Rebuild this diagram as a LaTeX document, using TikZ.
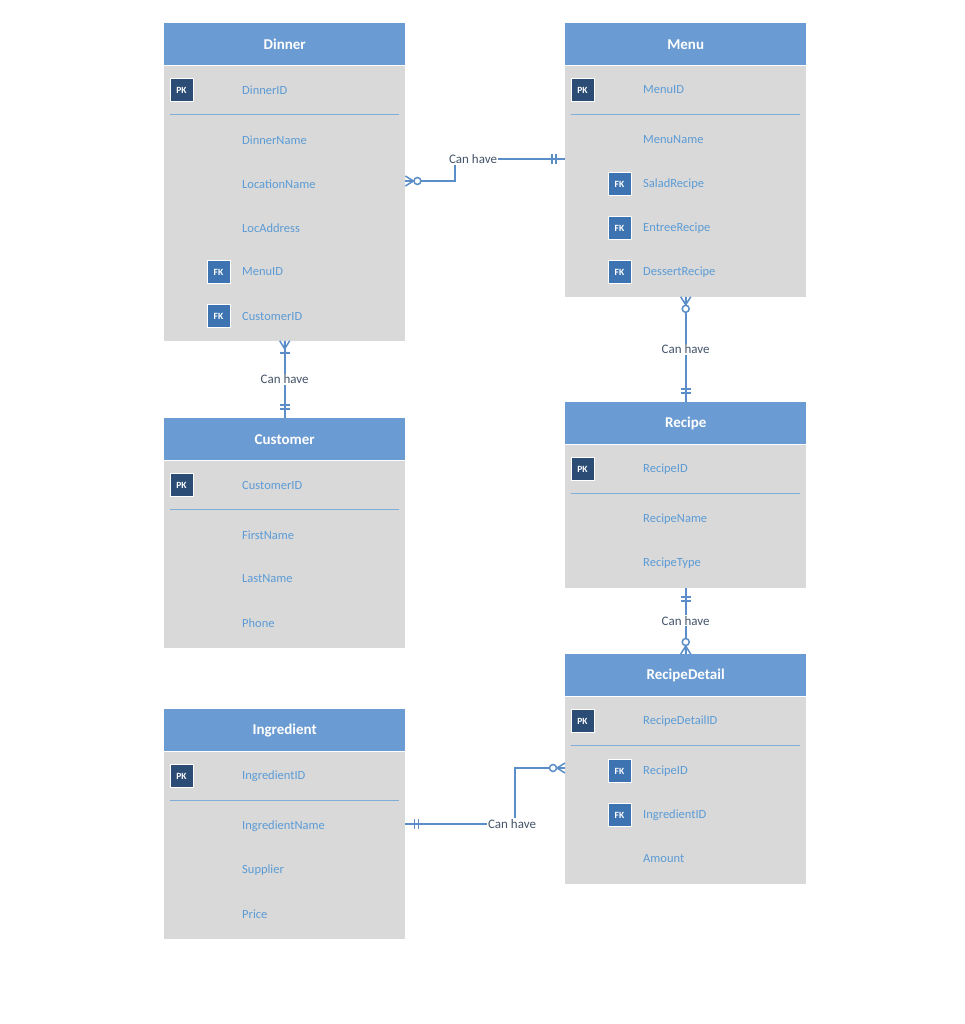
\documentclass[tikz,border=0pt]{standalone}
\usepackage{fontspec}
\setmainfont{Carlito}
\usetikzlibrary{positioning}

\definecolor{headblue}{HTML}{6A9BD2}
\definecolor{bodygrey}{HTML}{D9D9D9}
\definecolor{pkblue}{HTML}{2B4C74}
\definecolor{fkblue}{HTML}{3D73B1}
\definecolor{fieldblue}{HTML}{5B9BD5}
\definecolor{linkblue}{HTML}{5B8DC8}
\definecolor{labelgrey}{HTML}{44546A}

\tikzset{
  table head/.style={fill=headblue, text=white, font=\bfseries\fontsize{15}{17}\selectfont,
    minimum width=241pt, minimum height=42pt, inner sep=0pt, anchor=north west},
  table body/.style={fill=bodygrey, minimum width=241pt, inner sep=0pt},
  field/.style={text=fieldblue, font=\fontsize{12.5}{14}\selectfont, anchor=west, inner sep=0pt},
  key box/.style={draw=white, line width=0.6pt, text=white, font=\bfseries\fontsize{9.5}{11}\selectfont,
    minimum size=23pt, inner sep=0pt},
  pk box/.style={key box, fill=pkblue},
  fk box/.style={key box, fill=fkblue},
  sep line/.style={fieldblue!70!bodygrey, line width=0.9pt, dash pattern=on 1.5pt off 0.5pt},
  rel/.style={linkblue, line width=2pt},
  rel label/.style={fill=white, text=labelgrey, font=\fontsize{13}{15}\selectfont, inner sep=1pt},
  pics/zeromany/.style={code={
    \draw[rel, line width=1.5pt] (0,-5) -- (8,0) -- (0,5) (0,0) -- (8,0);
    \draw[rel, line width=1.5pt, fill=white] (12,0) circle (3.5pt);}},
  pics/onemany/.style={code={
    \draw[rel, line width=1.5pt] (0,-5) -- (8,0) -- (0,5) (0,0) -- (8,0);
    \draw[rel, line width=1.5pt] (12,-5) -- (12,5);}},
  pics/onemand/.style={code={
    \draw[rel, line width=1.5pt] (9,-5) -- (9,5) (13,-5) -- (13,5);}}
}

\begin{document}
\begin{tikzpicture}[x=1pt, y=-1pt]
  \useasboundingbox[fill=white] (0,0) rectangle (964,1024);

  % Dinner
  \node[table head] (dinner) at (164,23) {Dinner};
  \node[table body, minimum height=275pt, below=0pt of dinner] (dinner-body) {};
  \node[pk box] (dinner-pkbox) at (181.5,90) {PK};
  \node[field] (dinner-pk) at (242,90) {DinnerID};
  \draw[sep line] (170,114) -- (399,114);
  \foreach \t [count=\i] in {DinnerName,LocationName,LocAddress,MenuID,CustomerID}
    \node[field] (dinner-\i) at (242,96+44*\i) {\t};
  \foreach \i in {4,5}
    \node[fk box] (dinner-fk\i) at (218.5,96+44*\i) {FK};

  % Menu
  \node[table head] (menu) at (565,23) {Menu};
  \node[table body, minimum height=231pt, below=0pt of menu] (menu-body) {};
  \node[pk box] (menu-pkbox) at (582.5,90) {PK};
  \node[field] (menu-pk) at (643,90) {MenuID};
  \draw[sep line] (571,114) -- (800,114);
  \foreach \t [count=\i] in {MenuName,SaladRecipe,EntreeRecipe,DessertRecipe}
    \node[field] (menu-\i) at (643,96+44*\i) {\t};
  \foreach \i in {2,3,4}
    \node[fk box] (menu-fk\i) at (619.5,96+44*\i) {FK};

  % Customer
  \node[table head] (customer) at (164,418) {Customer};
  \node[table body, minimum height=187pt, below=0pt of customer] (customer-body) {};
  \node[pk box] (customer-pkbox) at (181.5,485) {PK};
  \node[field] (customer-pk) at (242,485) {CustomerID};
  \draw[sep line] (170,509) -- (399,509);
  \foreach \t [count=\i] in {FirstName,LastName,Phone}
    \node[field] (customer-\i) at (242,491+44*\i) {\t};

  % Recipe
  \node[table head] (recipe) at (565,402) {Recipe};
  \node[table body, minimum height=143pt, below=0pt of recipe] (recipe-body) {};
  \node[pk box] (recipe-pkbox) at (582.5,469) {PK};
  \node[field] (recipe-pk) at (643,469) {RecipeID};
  \draw[sep line] (571,493) -- (800,493);
  \foreach \t [count=\i] in {RecipeName,RecipeType}
    \node[field] (recipe-\i) at (643,475+44*\i) {\t};

  % RecipeDetail
  \node[table head] (recipedetail) at (565,654) {RecipeDetail};
  \node[table body, minimum height=187pt, below=0pt of recipedetail] (recipedetail-body) {};
  \node[pk box] (recipedetail-pkbox) at (582.5,721) {PK};
  \node[field] (recipedetail-pk) at (643,721) {RecipeDetailID};
  \draw[sep line] (571,745) -- (800,745);
  \foreach \t [count=\i] in {RecipeID,IngredientID,Amount}
    \node[field] (recipedetail-\i) at (643,727+44*\i) {\t};
  \foreach \i in {1,2}
    \node[fk box] (recipedetail-fk\i) at (619.5,727+44*\i) {FK};

  % Ingredient
  \node[table head] (ingredient) at (164,709) {Ingredient};
  \node[table body, minimum height=187pt, below=0pt of ingredient] (ingredient-body) {};
  \node[pk box] (ingredient-pkbox) at (181.5,776) {PK};
  \node[field] (ingredient-pk) at (242,776) {IngredientID};
  \draw[sep line] (170,800) -- (399,800);
  \foreach \t [count=\i] in {IngredientName,Supplier,Price}
    \node[field] (ingredient-\i) at (242,782+44*\i) {\t};

  % relations
  \coordinate (dm-a) at ([yshift=3pt]dinner-body.east |- dinner-2);
  \coordinate (dm-bend) at (455,159);
  \coordinate (dm-b) at (dm-bend -| menu-body.west);
  \draw[rel] (dm-a) -| (dm-bend) -- (dm-b);
  \pic at (dm-a) {zeromany};
  \pic[rotate=180] at (dm-b) {onemand};
  \node[rel label] (dm-label) at (473,159) {Can have};

  \draw[rel] (dinner-body.south) -- node[rel label] (dc-label) {Can have} (customer.north);
  \pic[rotate=-90] at (dinner-body.south) {onemany};
  \pic[rotate=90] at (customer.north) {onemand};

  \draw[rel] (menu-body.south) -- coordinate[midway] (mr-mid) (recipe.north);
  \pic[rotate=-90] at (menu-body.south) {zeromany};
  \pic[rotate=90] at (recipe.north) {onemand};
  \node[rel label] (mr-label) at (mr-mid) {Can have};

  \draw[rel] (recipe-body.south) -- coordinate[midway] (rd-mid) (recipedetail.north);
  \pic[rotate=-90] at (recipe-body.south) {onemand};
  \pic[rotate=90] at (recipedetail.north) {zeromany};
  \node[rel label] (rd-label) at (rd-mid) {Can have};

  \coordinate (ir-a) at ([yshift=2pt]ingredient-body.east |- ingredient-1);
  \coordinate (ir-bend) at (515,768);
  \coordinate (ir-b) at (ir-bend -| recipedetail-body.west);
  \draw[rel] (ir-a) -| (ir-bend) -- (ir-b);
  \pic at (ir-a) {onemand};
  \pic[rotate=180] at (ir-b) {zeromany};
  \node[rel label] (ir-label) at (512,824) {Can have};
\end{tikzpicture}
\end{document}
